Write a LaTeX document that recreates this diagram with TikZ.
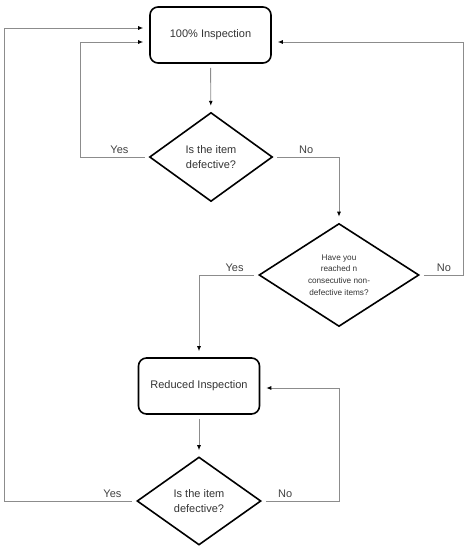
\documentclass[tikz,border=0pt]{standalone}
\usepackage{fontspec}
\setmainfont{Liberation Sans}
\usetikzlibrary{shapes.geometric,arrows.meta}

\tikzset{
  stage/.style={draw=black,line width=1.6pt,rounded corners=8pt,
    minimum width=121pt,minimum height=56pt,
    font=\fontsize{11}{13}\selectfont,text=black!80},
  query/.style={draw=black,line width=1.6pt,shape=diamond,inner sep=0pt,
    align=center,text=black!80,font=\fontsize{11}{14.3}\selectfont},
  flow/.style={draw=black!45,line width=0.9pt,
    -{Latex[length=5pt,width=4pt,color=black]},
    shorten <=4pt,shorten >=6pt},
  tag/.style={font=\fontsize{11}{13}\selectfont,text=black!75}
}

\begin{document}
\begin{tikzpicture}[x=1pt,y=-1pt]
    \useasboundingbox (0,0) rectangle (474,553);
    % Inspection stages
    \node[stage] (full) at (210.5,35) {100\% Inspection};
    \node[stage] (reduced) at (199,386) {Reduced Inspection};
    % Decisions
    \node[query,minimum width=123pt,minimum height=89pt] (defA) at (211,157)
        {Is the item\\defective?};
    \node[query,minimum width=160pt,minimum height=103pt,
          font=\fontsize{8.2}{11.7}\selectfont] (streak) at (339,275)
        {Have you\\reached n\\consecutive non-\\defective items?};
    \node[query,minimum width=124pt,minimum height=88pt] (defB) at (199,501)
        {Is the item\\defective?};

    % Full inspection loop
    \draw[flow] (full) -- (defA);
    \draw[flow] (defA.west) -- node[tag,above,pos=0.43] {Yes} ++(-68,0)
        |- ([yshift=-7pt]full.west);
    \draw[flow] (defA.east) -| node[tag,above,pos=0.25] {No} (streak.north);
    \draw[flow] (streak.east) -- node[tag,above,pos=0.55] {No} ++(44,0)
        |- ([yshift=-7pt]full.east);
    \draw[flow] (streak.west) -| node[tag,above,pos=0.2] {Yes} (reduced.north);

    % Reduced inspection loop
    \draw[flow] (reduced) -- (defB);
    \draw[flow] (defB.east) -- node[tag,above,pos=0.3] {No} ++(78,0)
        |- ([yshift=-2pt]reduced.east);
    \draw[flow] (defB.west) -- node[tag,above,pos=0.18] {Yes} ++(-132,0)
        |- ([yshift=7pt]full.west);
\end{tikzpicture}
\end{document}
